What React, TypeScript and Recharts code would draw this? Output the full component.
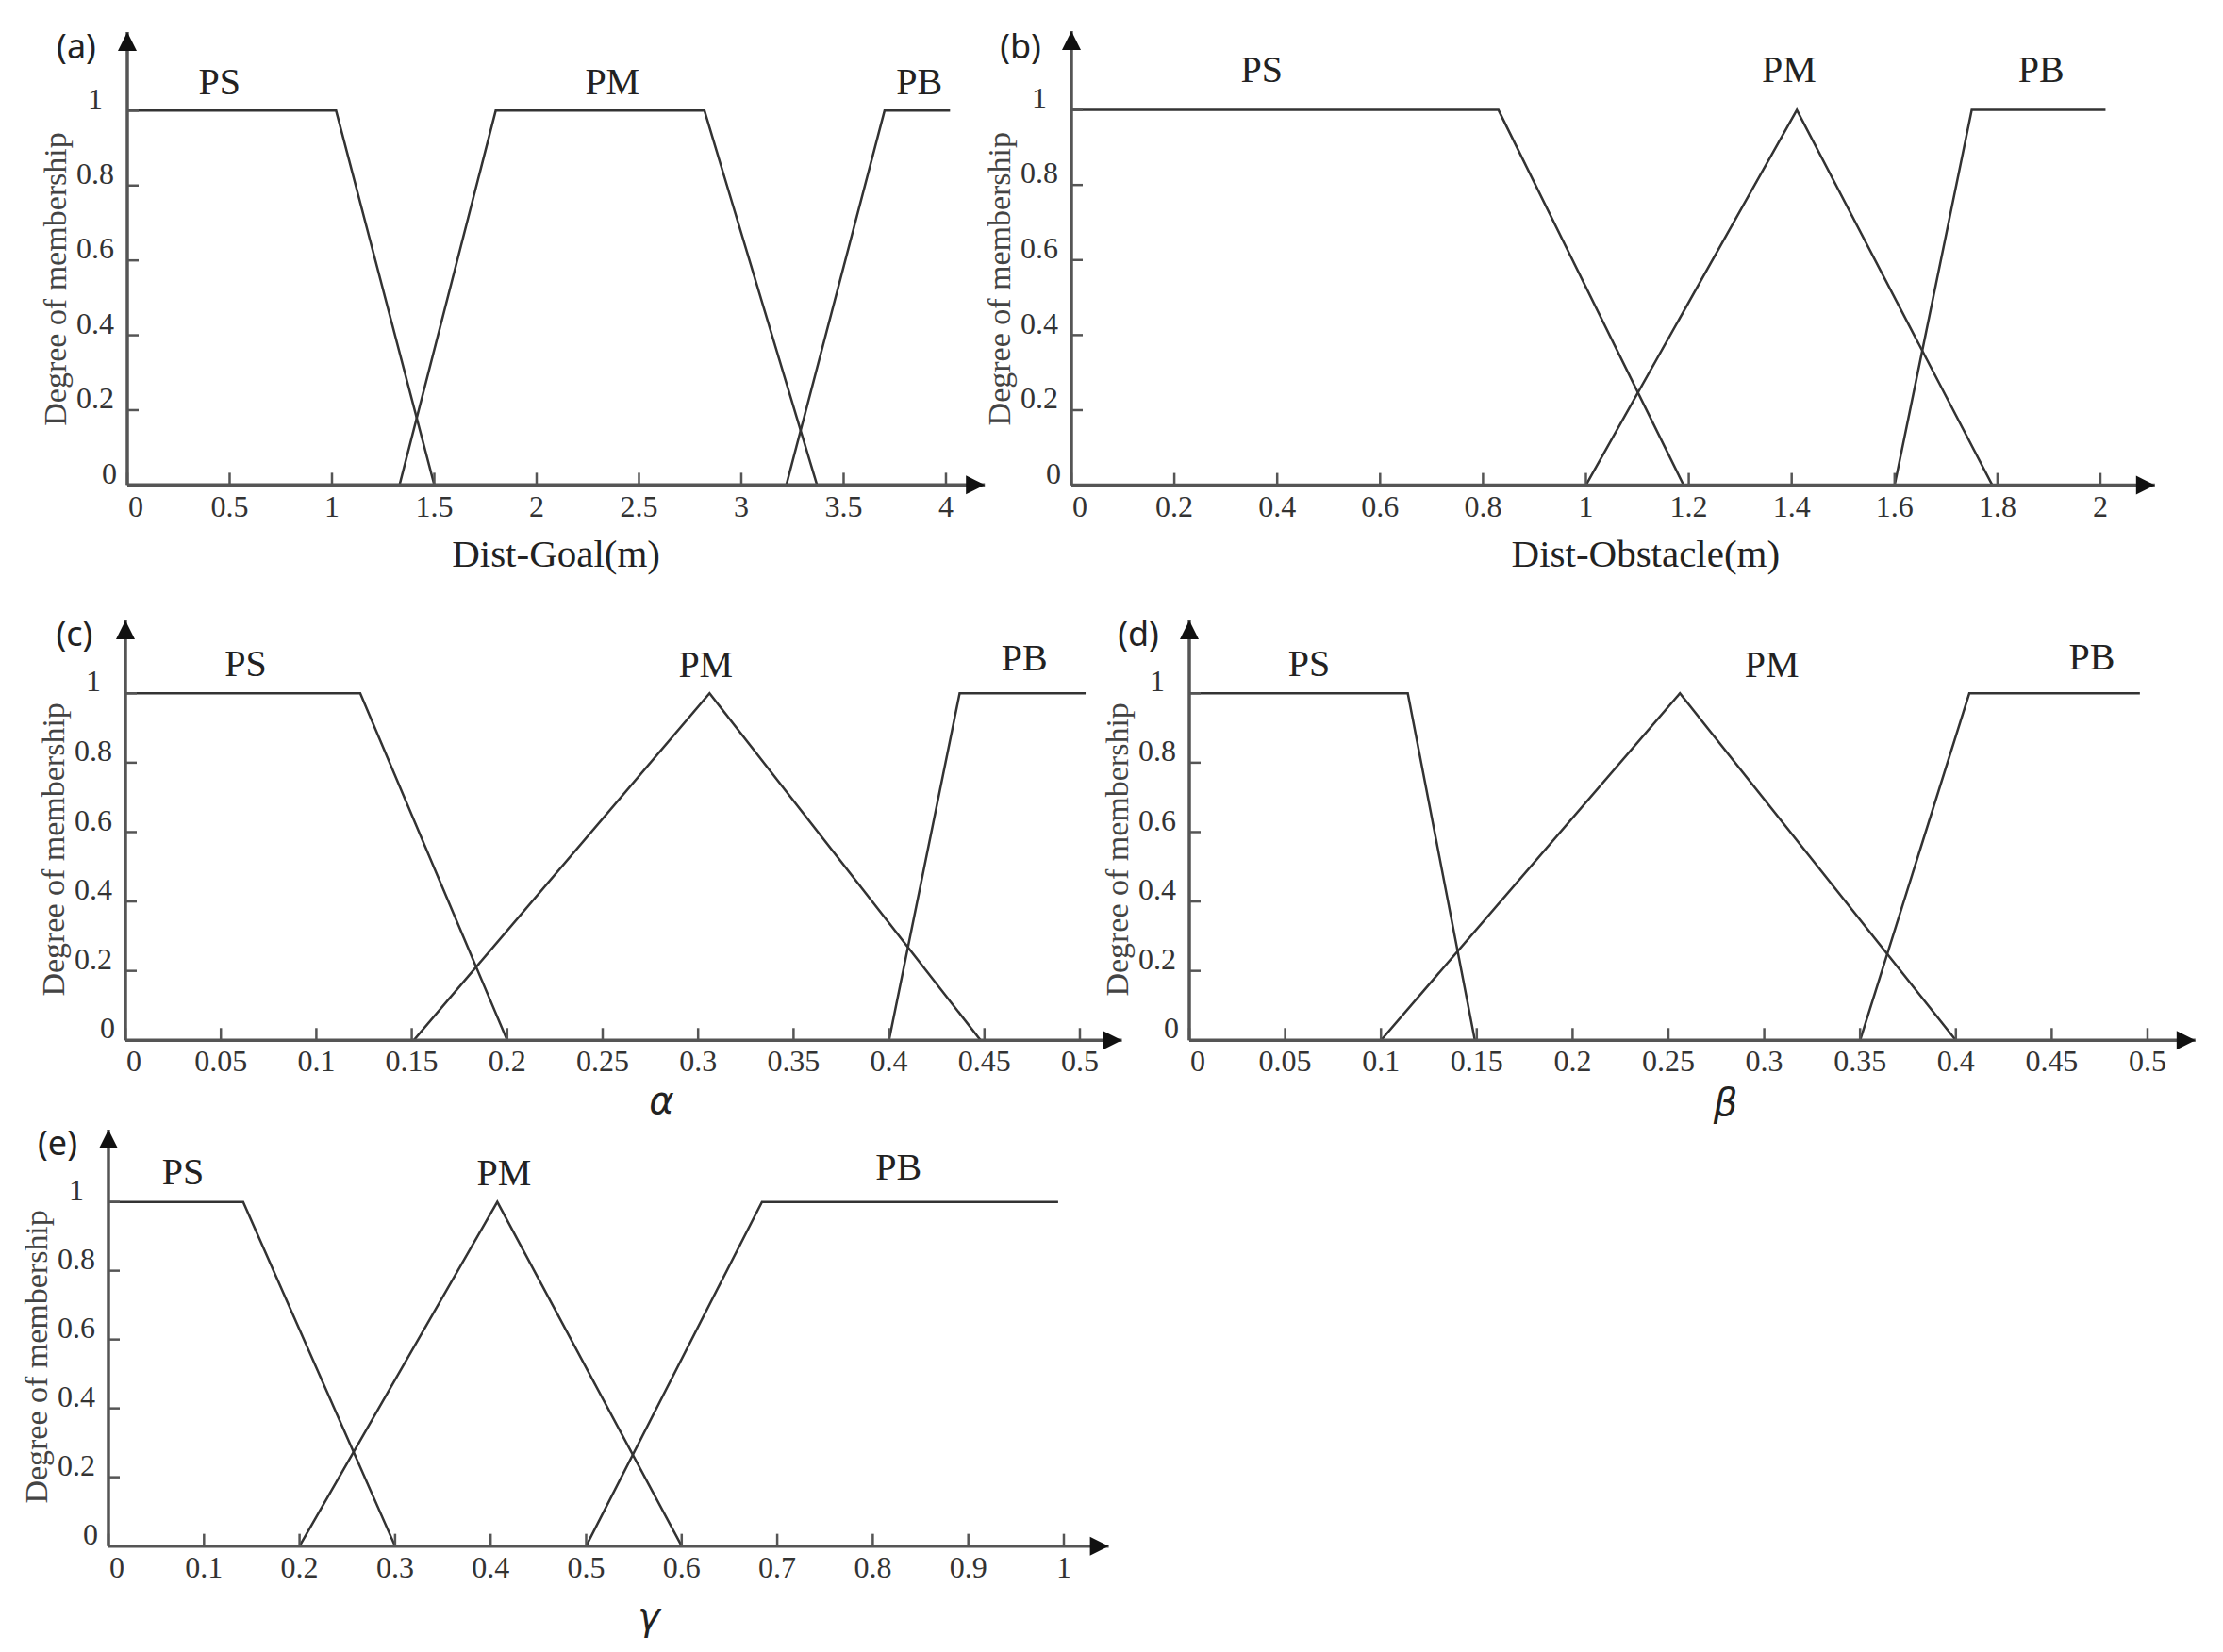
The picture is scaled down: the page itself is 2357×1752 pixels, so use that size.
import React from 'react';
import { LineChart, Line, XAxis, YAxis, ReferenceDot } from 'recharts';

type Pt = { x: number; y: number };

const memberTicks = [0, 0.2, 0.4, 0.6, 0.8, 1];
const termNames = ['PS', 'PM', 'PB'];
const Y_MAX = 1.21;

// (a) Dist-Goal
const goalTicks = [0, 0.5, 1, 1.5, 2, 2.5, 3, 3.5, 4];
const goalPS: Pt[] = [{ x: 0, y: 1 }, { x: 1.02, y: 1 }, { x: 1.5, y: 0 }];
const goalPM: Pt[] = [{ x: 1.33, y: 0 }, { x: 1.8, y: 1 }, { x: 2.82, y: 1 }, { x: 3.37, y: 0 }];
const goalPB: Pt[] = [{ x: 3.22, y: 0 }, { x: 3.7, y: 1 }, { x: 4.02, y: 1 }];

// (b) Dist-Obstacle
const obstTicks = [0, 0.2, 0.4, 0.6, 0.8, 1, 1.2, 1.4, 1.6, 1.8, 2];
const obstPS: Pt[] = [{ x: 0, y: 1 }, { x: 0.83, y: 1 }, { x: 1.19, y: 0 }];
const obstPM: Pt[] = [{ x: 1, y: 0 }, { x: 1.41, y: 1 }, { x: 1.79, y: 0 }];
const obstPB: Pt[] = [{ x: 1.6, y: 0 }, { x: 1.75, y: 1 }, { x: 2.01, y: 1 }];

// (c) alpha
const alphaTicks = [0, 0.05, 0.1, 0.15, 0.2, 0.25, 0.3, 0.35, 0.4, 0.45, 0.5];
const alphaPS: Pt[] = [{ x: 0, y: 1 }, { x: 0.123, y: 1 }, { x: 0.2, y: 0 }];
const alphaPM: Pt[] = [{ x: 0.151, y: 0 }, { x: 0.306, y: 1 }, { x: 0.448, y: 0 }];
const alphaPB: Pt[] = [{ x: 0.4, y: 0 }, { x: 0.437, y: 1 }, { x: 0.503, y: 1 }];

// (d) beta
const betaTicks = [0, 0.05, 0.1, 0.15, 0.2, 0.25, 0.3, 0.35, 0.4, 0.45, 0.5];
const betaPS: Pt[] = [{ x: 0, y: 1 }, { x: 0.114, y: 1 }, { x: 0.149, y: 0 }];
const betaPM: Pt[] = [{ x: 0.1, y: 0 }, { x: 0.256, y: 1 }, { x: 0.4, y: 0 }];
const betaPB: Pt[] = [{ x: 0.35, y: 0 }, { x: 0.407, y: 1 }, { x: 0.496, y: 1 }];

// (e) gamma
const gammaTicks = [0, 0.1, 0.2, 0.3, 0.4, 0.5, 0.6, 0.7, 0.8, 0.9, 1];
const gammaPS: Pt[] = [{ x: 0, y: 1 }, { x: 0.141, y: 1 }, { x: 0.3, y: 0 }];
const gammaPM: Pt[] = [{ x: 0.2, y: 0 }, { x: 0.407, y: 1 }, { x: 0.6, y: 0 }];
const gammaPB: Pt[] = [{ x: 0.5, y: 0 }, { x: 0.684, y: 1 }, { x: 0.994, y: 1 }];

const AXIS = '#555';
const LINE = '#333';
const SERIF = '"Liberation Serif", "Times New Roman", serif';

const panels = [
  { tag: '(a)', title: 'Dist-Goal(m)', greek: false, ticks: goalTicks, sets: [goalPS, goalPM, goalPB], xMax: 4.19,
    ox: 135, oy: 514, ux: 217, uy: 397, nameX: [0.45, 2.37, 3.87], nameY: [1.08, 1.08, 1.08], titleFrac: 0.5, titleDy: 72 },
  { tag: '(b)', title: 'Dist-Obstacle(m)', greek: false, ticks: obstTicks, sets: [obstPS, obstPM, obstPB], xMax: 2.106,
    ox: 1136, oy: 515, ux: 545.5, uy: 398, nameX: [0.37, 1.395, 1.885], nameY: [1.11, 1.11, 1.11], titleFrac: 0.53, titleDy: 72 },
  { tag: '(c)', title: 'α', greek: true, ticks: alphaTicks, sets: [alphaPS, alphaPM, alphaPB], xMax: 0.522,
    ox: 133, oy: 1103, ux: 2024, uy: 368, nameX: [0.063, 0.304, 0.471], nameY: [1.087, 1.084, 1.103], titleFrac: 0.538, titleDy: 64 },
  { tag: '(d)', title: 'β', greek: true, ticks: betaTicks, sets: [betaPS, betaPM, betaPB], xMax: 0.525,
    ox: 1261, oy: 1103, ux: 2032, uy: 368, nameX: [0.0625, 0.304, 0.471], nameY: [1.087, 1.084, 1.106], titleFrac: 0.533, titleDy: 66 },
  { tag: '(e)', title: 'γ', greek: true, ticks: gammaTicks, sets: [gammaPS, gammaPM, gammaPB], xMax: 1.047,
    ox: 115, oy: 1640, ux: 1013, uy: 365, nameX: [0.078, 0.414, 0.827], nameY: [1.09, 1.086, 1.104], titleFrac: 0.54, titleDy: 74 },
];

const XTick = (props: any) => {
  const { x, y, payload } = props;
  return (
    <g>
      <line x1={x} y1={y} x2={x} y2={y - 13} stroke={AXIS} strokeWidth={2.5} />
      <text x={payload.value === 0 ? x + 9 : x} y={y + 22} dy="0.35em" textAnchor="middle"
        fontFamily={SERIF} fontSize={32} fill="#333">{String(payload.value)}</text>
    </g>
  );
};

const YTick = (props: any) => {
  const { x, y, payload } = props;
  return (
    <g>
      <line x1={x} y1={y} x2={x + 12} y2={y} stroke={AXIS} strokeWidth={2.5} />
      <text x={payload.value === 0 ? x - 19 : x - 34} y={y - 13} dy="0.35em" textAnchor="middle"
        fontFamily={SERIF} fontSize={32} fill="#333">{String(payload.value)}</text>
    </g>
  );
};

const Panel = ({ p }: { p: (typeof panels)[number] }) => {
  const yAxisW = 110;
  const mTop = 20;
  const mRight = 30;
  const xAxisH = 106;
  const plotW = p.xMax * p.ux;
  const plotH = Y_MAX * p.uy;
  const width = yAxisW + plotW + mRight;
  const height = mTop + plotH + xAxisH;
  const left = p.ox - yAxisW;
  const top = p.oy - plotH - mTop;

  const yLabel = (lp: any) => {
    const vb = lp.viewBox;
    const ax = vb.x + vb.width;
    const cy = vb.y + vb.height * (1 - 0.55 / Y_MAX);
    const ty = vb.y + vb.height * (1 - 1.17 / Y_MAX);
    return (
      <g>
        <text x={ax - 54} y={ty} dy="0.35em" textAnchor="middle" fontFamily='"Noto Sans", sans-serif'
          fontSize={36} fill="#222">{p.tag}</text>
        <text x={ax - 77} y={cy} dy="0.35em" textAnchor="middle" transform={`rotate(-90 ${ax - 77} ${cy})`}
          fontFamily={SERIF} fontSize={34} fill="#444">Degree of membership</text>
      </g>
    );
  };

  const xLabel = (lp: any) => {
    const vb = lp.viewBox;
    const cx = vb.x + vb.width * p.titleFrac;
    return (
      <text x={cx} y={vb.y + p.titleDy} dy="0.35em" textAnchor="middle"
        fontFamily={p.greek ? '"DejaVu Sans", sans-serif' : SERIF} fontStyle={p.greek ? 'italic' : 'normal'}
        fontSize={p.greek ? 40 : 41} fill="#222">{p.title}</text>
    );
  };

  return (
    <div style={{ position: 'absolute', left, top, width, height }}>
      <LineChart width={width} height={height} margin={{ top: mTop, right: mRight, bottom: 0, left: 0 }}>
        <XAxis type="number" dataKey="x" domain={[0, p.xMax]} ticks={p.ticks} interval={0} allowDataOverflow
          height={xAxisH} tickLine={false} tickSize={0} tickMargin={0} tick={XTick}
          axisLine={{ stroke: AXIS, strokeWidth: 3.5 }} label={xLabel} />
        <YAxis type="number" dataKey="y" domain={[0, Y_MAX]} ticks={memberTicks} interval={0} allowDataOverflow
          width={yAxisW} tickLine={false} tickSize={0} tickMargin={0} tick={YTick}
          axisLine={{ stroke: AXIS, strokeWidth: 3.5 }} label={yLabel} />
        {p.sets.map((d, i) => (
          <Line key={termNames[i]} data={d} dataKey="y" type="linear" dot={false} activeDot={false}
            stroke={LINE} strokeWidth={2.5} isAnimationActive={false} />
        ))}
        <ReferenceDot x={0} y={Y_MAX} r={1} ifOverflow="visible"
          shape={(s: any) => (
            <polygon points={`${s.cx},${s.cy} ${s.cx - 10},${s.cy + 20} ${s.cx + 10},${s.cy + 20}`} fill="#111" />
          )} />
        <ReferenceDot x={p.xMax} y={0} r={1} ifOverflow="visible"
          shape={(s: any) => (
            <polygon points={`${s.cx},${s.cy} ${s.cx - 20},${s.cy - 10} ${s.cx - 20},${s.cy + 10}`} fill="#111" />
          )} />
        {termNames.map((n, i) => (
          <ReferenceDot key={n} x={p.nameX[i]} y={p.nameY[i]} r={1} ifOverflow="visible"
            shape={(s: any) => (
              <text x={s.cx} y={s.cy} dy="0.35em" textAnchor="middle" fontFamily={SERIF} fontSize={40} fill="#222">{n}</text>
            )} />
        ))}
      </LineChart>
    </div>
  );
}

export default function App() {
  return (
    <div style={{ position: 'absolute', left: 0, top: 0, width: 2357, height: 1752, overflow: 'hidden', background: '#fff' }}>
      {panels.map((p) => (
        <Panel key={p.tag} p={p} />
      ))}
    </div>
  );
}
